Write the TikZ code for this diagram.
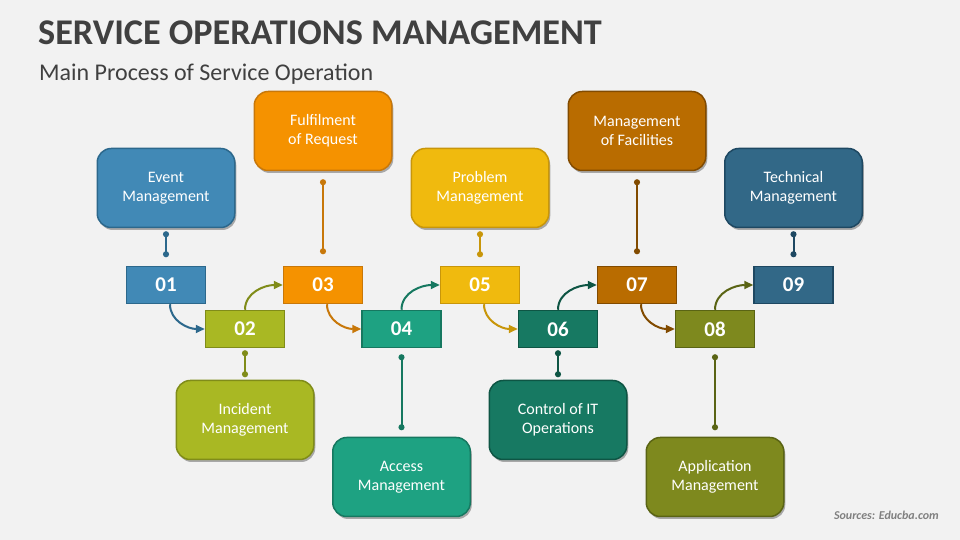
\documentclass[tikz,border=0pt]{standalone}
\usepackage{fontspec}
\setmainfont{Carlito}
\usetikzlibrary{arrows.meta,shadows,positioning}

\definecolor{bg}{HTML}{F2F2F2}
\definecolor{ink}{HTML}{404040}
\definecolor{c1}{HTML}{4189B6}\definecolor{d1}{HTML}{2C688C}
\definecolor{c2}{HTML}{A9B823}\definecolor{d2}{HTML}{808C19}
\definecolor{c3}{HTML}{F59200}\definecolor{d3}{HTML}{C8780A}
\definecolor{c4}{HTML}{1EA282}\definecolor{d4}{HTML}{167860}
\definecolor{c5}{HTML}{F0BA0E}\definecolor{d5}{HTML}{C8960A}
\definecolor{c6}{HTML}{177962}\definecolor{d6}{HTML}{0E5544}
\definecolor{c7}{HTML}{B96C00}\definecolor{d7}{HTML}{824B00}
\definecolor{c8}{HTML}{7E891E}\definecolor{d8}{HTML}{5A6414}
\definecolor{c9}{HTML}{326887}\definecolor{d9}{HTML}{1E4862}

\begin{document}
\begin{tikzpicture}[x=1pt,y=1pt,
    num/.style={rectangle,fill=c#1,draw=d#1,line width=1.5pt,
        minimum width=79pt,minimum height=37pt,inner sep=0pt,text=white,
        font=\bfseries\fontsize{21}{21}\selectfont},
    lab/.style={rectangle,rounded corners=14pt,fill=c#1,draw=d#1,line width=1.5pt,
        minimum width=137.5pt,minimum height=79pt,inner sep=0pt,text=white,
        align=center,font=\fontsize{16}{19}\selectfont,
        drop shadow={shadow xshift=1.5pt,shadow yshift=-2.5pt,opacity=0.3,fill=black}},
    link/.style={draw=d#1,line width=2pt,{Circle[length=6pt]}-{Circle[length=6pt]}},
    flow/.style={draw=d#1,line width=2pt,-{Triangle[length=9pt,width=8pt]}}]
        \fill[bg](0,0)rectangle(960,540);
        \useasboundingbox(0,0)rectangle(960,540);
        % 見出し
        \node[anchor=base west,inner sep=0pt,text=ink,font=\bfseries\fontsize{36.2}{36}\selectfont](title)at(38,495){SERVICE OPERATIONS MANAGEMENT};
        \node[anchor=base west,inner sep=0pt,text=ink,font=\fontsize{24}{24}\selectfont](sub)at(39,459){Main Process of Service Operation};
        % 番号
        \foreach \i/\x/\y in {1/166/255,2/245/211,3/323/255,4/401.5/211,5/480/255,6/558/211,7/637/255,8/715/211,9/793.5/255}
        {
        \node[num=\i](n\i)at(\x,\y){0\i};
        }
        % 説明
        \node[lab=1](l1)at(166,352){Event\\Management};
        \node[lab=3](l3)at(323,409){Fulfilment\\of Request};
        \node[lab=5](l5)at(480,352){Problem\\Management};
        \node[lab=7](l7)at(637,409){Management\\of Facilities};
        \node[lab=9](l9)at(793.5,352){Technical\\Management};
        \node[lab=2](l2)at(245,120){Incident\\Management};
        \node[lab=4](l4)at(401.5,63){Access\\Management};
        \node[lab=6](l6)at(558,120){Control of IT\\Operations};
        \node[lab=8](l8)at(715,63){Application\\Management};
        % 接続線
        \foreach \i in {1,5,9}
        {
        \draw[link=\i,shorten <=3pt,shorten >=8.5pt](l\i)to(n\i);
        }
        \foreach \i in {3,7}
        {
        \draw[link=\i,shorten <=8pt,shorten >=11.5pt](l\i)to(n\i);
        }
        \foreach \i in {2,6}
        {
        \draw[link=\i,shorten <=2pt,shorten >=2.5pt](n\i)to(l\i);
        }
        \foreach \i in {4,8}
        {
        \draw[link=\i,shorten <=6pt,shorten >=6.5pt](n\i)to(l\i);
        }
        % 矢印
        \foreach \i/\j in {1/2,3/4,5/6,7/8}
        {
        \draw[flow=\i]([xshift=4pt]n\i.south)to[out=-90,in=180](n\j.west);
        }
        \foreach \i/\j in {2/3,4/5,6/7,8/9}
        {
        \draw[flow=\i](n\i.north)to[out=90,in=180](n\j.west);
        }
        % 出典
        \node[anchor=base east,inner sep=0pt,text=black!50,font=\bfseries\itshape\fontsize{12}{12}\selectfont](src)at(939,20){Sources: Educba.com};
    \end{tikzpicture}
\end{document}
